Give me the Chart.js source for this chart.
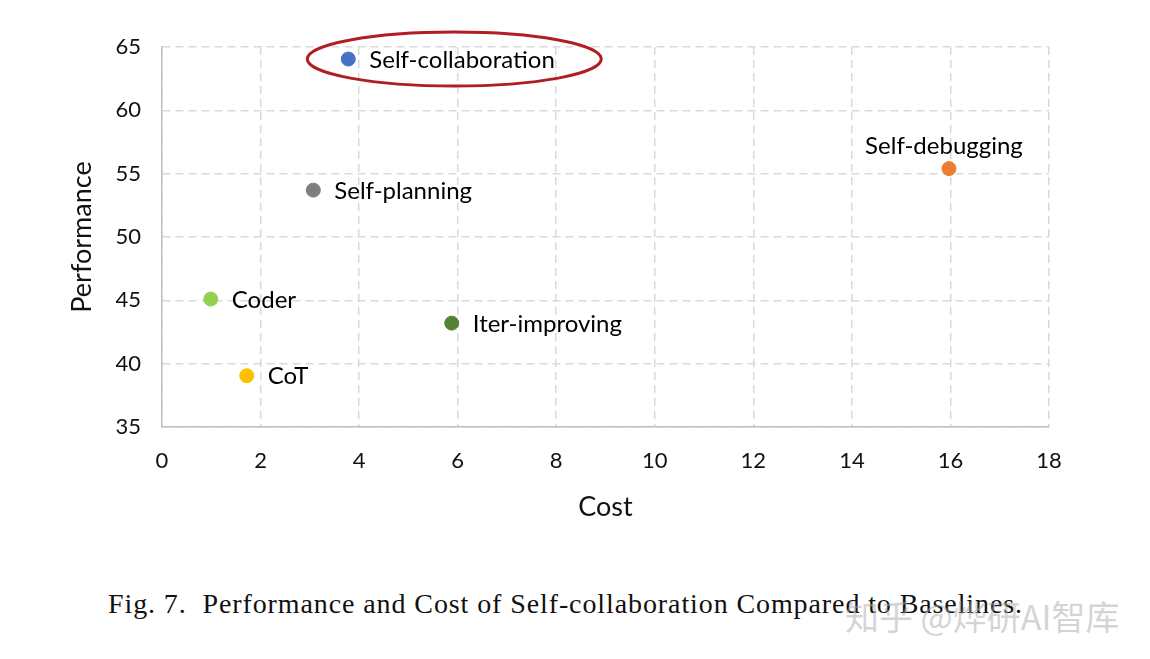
<!DOCTYPE html>
<html>
<head>
<meta charset="utf-8">
<script src="https://cdn.jsdelivr.net/npm/chart.js@4.4.1/dist/chart.umd.min.js"></script>
<style>
  body { margin: 0; background: #fff; width: 1150px; height: 659px; overflow: hidden; position: relative; }
  #wrap { position: absolute; left: 0; top: 0; width: 1150px; height: 560px; }
  #caption { position: absolute; left: 108px; top: 588px; font-family: "Liberation Serif", "DejaVu Serif", serif; font-size: 28px; letter-spacing: 0.9px; color: #111; white-space: pre; }
  #mark { position: absolute; left: 845px; top: 591px; font-family: "Noto Sans CJK SC", sans-serif; font-size: 34px; color: rgba(170,170,170,0.5); white-space: pre; }
</style>
</head>
<body>
<div id="wrap"><canvas id="chart" width="1150" height="560"></canvas></div>
<div id="caption">Fig. 7.  Performance and Cost of Self-collaboration Compared to Baselines.</div>
<div id="mark">知乎 @烨研AI智库</div>
<script>
// 방법별 데이터
const methods = ["Self-collaboration", "Self-debugging", "Self-planning", "Coder", "Iter-improving", "CoT"];
const costs = [3.78, 15.97, 3.07, 0.99, 5.88, 1.72];
const performance = [64.05, 55.4, 53.7, 45.1, 43.2, 39.05];
const colors = ["#4472C4", "#ED7D31", "#7F7F7F", "#92D050", "#548235", "#FFC000"];
const xTicks = [0, 2, 4, 6, 8, 10, 12, 14, 16, 18];
const yTicks = [35, 40, 45, 50, 55, 60, 65];

const fontFamily = "Lato, 'Open Sans', sans-serif";

// 점 옆에 이름 붙이기 + 강조 타원
const labelPlugin = {
  id: "pointLabels",
  afterDatasetsDraw(chart) {
    const ctx = chart.ctx;
    const meta = chart.getDatasetMeta(0);
    ctx.save();
    ctx.font = "24px " + fontFamily;
    ctx.fillStyle = "#000";
    ctx.textBaseline = "middle";
    meta.data.forEach((pt, i) => {
      const name = methods[i];
      if (name === "Self-debugging") {
        ctx.textAlign = "center";
        ctx.fillText(name, pt.x - 5, pt.y - 22);
      } else {
        ctx.textAlign = "left";
        ctx.fillText(name, pt.x + 21, pt.y + 1);
      }
      if (name === "Self-collaboration") {
        ctx.beginPath();
        ctx.ellipse(pt.x + 106, pt.y, 147, 27, 0, 0, Math.PI * 2);
        ctx.strokeStyle = "#B01E23";
        ctx.lineWidth = 3;
        ctx.stroke();
      }
    });
    ctx.restore();
  },
};

const ctx = document.getElementById("chart").getContext("2d");
new Chart(ctx, {
  type: "scatter",
  data: {
    datasets: [
      {
        data: costs.map((c, i) => ({ x: c, y: performance[i] })),
        backgroundColor: colors,
        borderColor: colors,
        pointRadius: 7,
        pointHoverRadius: 7,
      },
    ],
  },
  options: {
    responsive: false,
    animation: false,
    layout: { padding: { left: 66, top: 47, right: 101, bottom: 33 } },
    plugins: { legend: { display: false }, tooltip: { enabled: false } },
    scales: {
      x: {
        type: "linear",
        min: 0,
        max: 18,
        afterBuildTicks: (axis) => { axis.ticks = xTicks.map((v) => ({ value: v })); },
        afterFit: (axis) => { axis.height = 100; },
        grid: { color: "#D9D9D9", lineWidth: 1.5, drawTicks: false },
        border: { color: "#BFBFBF", width: 1.5, dash: [8, 5] },
        ticks: { color: "#111", font: { family: fontFamily, size: 22 }, padding: 21 },
        title: { display: true, text: "Cost", color: "#111", font: { family: fontFamily, size: 27 }, padding: { top: 20 } },
      },
      y: {
        type: "linear",
        min: 35,
        max: 65,
        afterBuildTicks: (axis) => { axis.ticks = yTicks.map((v) => ({ value: v })); },
        afterFit: (axis) => { axis.width = 96; },
        grid: { color: "#D9D9D9", lineWidth: 1.5, drawTicks: false },
        border: { color: "#BFBFBF", width: 1.5, dash: [8, 5] },
        ticks: { color: "#111", font: { family: fontFamily, size: 22 }, padding: 21 },
        title: { display: true, text: "Performance", color: "#111", font: { family: fontFamily, size: 27 }, padding: 0 },
      },
    },
  },
  plugins: [labelPlugin],
});
</script>
</body>
</html>
